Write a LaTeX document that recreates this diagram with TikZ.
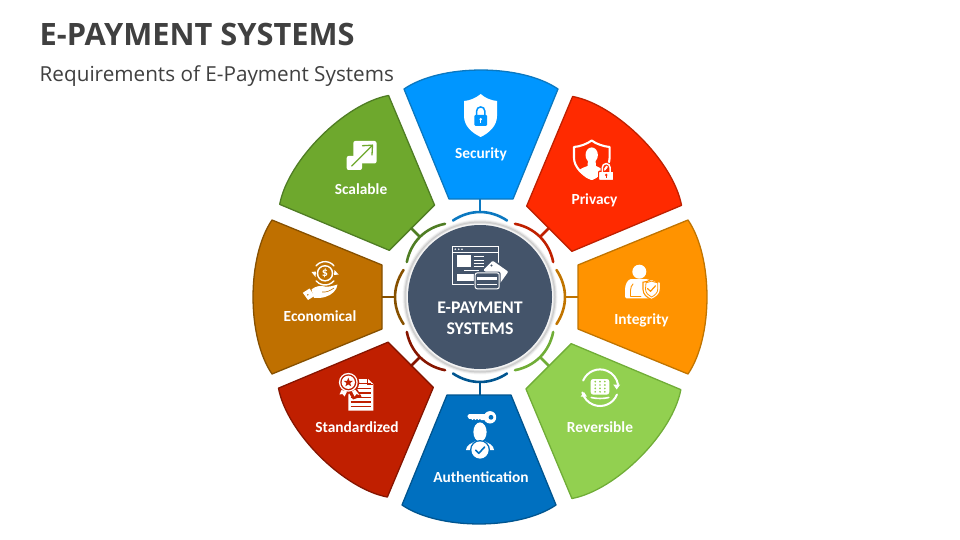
\documentclass[tikz,border=0pt]{standalone}
\usepackage{fontspec}
\setmainfont{Carlito}
\newfontfamily\titlefont{Open Sans}
\definecolor{cSec}{HTML}{0096FF}\definecolor{dSec}{HTML}{0B78C0}
\definecolor{cPri}{HTML}{FF2A00}\definecolor{dPri}{HTML}{BF2000}
\definecolor{cInt}{HTML}{FF9300}\definecolor{dInt}{HTML}{C07400}
\definecolor{cRev}{HTML}{92D050}\definecolor{dRev}{HTML}{70AD37}
\definecolor{cAut}{HTML}{0070C0}\definecolor{dAut}{HTML}{005590}
\definecolor{cSta}{HTML}{C01F00}\definecolor{dSta}{HTML}{861500}
\definecolor{cEco}{HTML}{BF7000}\definecolor{dEco}{HTML}{865000}
\definecolor{cSca}{HTML}{6EA82D}\definecolor{dSca}{HTML}{4F7D24}
\definecolor{hub}{HTML}{44546A}
\definecolor{ink}{HTML}{404040}
\tikzset{
 petalline/.style={line width=1.3pt,line join=round},
 ringline/.style={line width=2.6pt,line cap=round},
 stemline/.style={line width=2.6pt},
 label/.style={text=white,font=\bfseries\fontsize{15.4}{15.4}\selectfont,inner sep=0pt,anchor=center},
 icon/.style={fill=white,draw=none},
 iconline/.style={draw=white,fill=none,line cap=round,line join=round},
}
\newcommand\petal[6]{%
 \begin{scope}[xshift=#5,yshift=#6,shift={(480,297)},rotate=#2]
  \draw[petalline,fill=#3,draw=#4] (98,-32) -- (208,-77) .. controls (233.3,-40) and (233.3,40) .. (208,77) -- (98,32) -- cycle;
 \end{scope}
 \begin{scope}[shift={(480,297)},rotate=#2]
  \coordinate (w#1) at (98,0);
  \coordinate (c#1) at (85,0);
  \draw[ringline,draw=#4] (76.5,-27) .. controls (87.8,-10) and (87.8,10) .. (76.5,27);
 \end{scope}
 \draw[stemline,draw=#4] (c#1) -- (w#1);}
\begin{document}
\begin{tikzpicture}[x=1pt,y=-1pt]
\useasboundingbox (0,0) rectangle (960,540);
\node[anchor=west,inner sep=0pt,text=ink,font=\titlefont\bfseries\fontsize{30.8}{31}\selectfont] (title) at (39.5,35) {E-PAYMENT SYSTEMS};
\node[anchor=west,inner sep=0pt,text=ink,font=\titlefont\fontsize{20.7}{21}\selectfont] (subtitle) at (39.5,76) {Requirements of E-Payment Systems};

\petal{sec}{90}{cSec}{dSec}{1pt}{0pt}
\petal{pri}{45}{cPri}{dPri}{0pt}{-1pt}
\petal{int}{0}{cInt}{dInt}{0pt}{0pt}
\petal{rev}{-45}{cRev}{dRev}{-.7pt}{0pt}
\petal{aut}{-90}{cAut}{dAut}{-1pt}{0pt}
\petal{sta}{-135}{cSta}{dSta}{0pt}{1.5pt}
\petal{eco}{180}{cEco}{dEco}{0pt}{0pt}
\petal{sca}{135}{cSca}{dSca}{1.2pt}{0pt}

% hub
\fill[gray!8] (480,297) circle (77.5);
\fill[gray!22] (480,297) circle (76.5);
\fill[gray!40] (480,297) circle (75.5);
\fill[gray!30] (480,297) circle (74.5);
\fill[gray!8] (480,297) circle (73.5);
\fill[hub] (480,297) circle (72);

% labels
\node[label] (lsec) at (481,154.3) {Security};
\node[label] (lpri) at (594.5,200.3) {Privacy};
\node[label] (lint) at (641.5,320.3) {Integrity};
\node[label] (lrev) at (600,427) {Reversible};
\node[label] (laut) at (481,477) {Authentication};
\node[label] (lsta) at (357,427) {Standardized};
\node[label] (leco) at (320,316) {Economical};
\node[label] (lsca) at (361,189) {Scalable};
\node[label,font=\bfseries\fontsize{17.8}{21}\selectfont,align=center] (lhub) at (480,318.5) {E-PAYMENT\\SYSTEMS};

% security icon
\fill[icon] (480.7,94) .. controls (485,98) and (491,100.5) .. (497,101) -- (497,116) .. controls (497,126) and (489,133) .. (480.7,137) .. controls (472,133) and (464,126) .. (464,116) -- (464,101) .. controls (470,100.5) and (476,98) .. (480.7,94) -- cycle;
\draw[draw=cSec,line width=1.5pt] (476.6,115) -- (476.6,111) arc[start angle=180,end angle=360,radius=4.1] -- (484.8,115);
\fill[cSec,rounded corners=1pt] (474.3,115) rectangle (487,125.8);
\fill[white] (480.7,119.3) circle (1.4);
\fill[white] (480.1,119.5) rectangle (481.3,123);

% privacy icon
\draw[draw=white,line width=2.1pt,line join=round] (591.7,140.5) .. controls (596,144) and (604,146.5) .. (609.6,147) -- (609.6,158) .. controls (609.6,167) and (600,175.5) .. (591.7,179) .. controls (583,175.5) and (574,167) .. (574,158) -- (574,147) .. controls (580,146.5) and (587,144) .. (591.7,140.5) -- cycle;
\fill[white] (591.7,155) ellipse (6.2 and 7.6);
\fill[white] (588,160) -- (595.5,160) -- (596,166) .. controls (600,168) and (603,169) .. (604,171) -- (596,178) -- (591.7,180) -- (586,177.5) -- (578.5,171) .. controls (581,168) and (584,167.5) .. (587.5,166) -- cycle;
\draw[draw=cPri,line width=3.5pt] (602.3,172) -- (602.3,167.5) arc[start angle=180,end angle=360,radius=3.9] -- (610.1,172);
\fill[white,draw=cPri,line width=1.2pt,rounded corners=.8pt] (598.6,171.3) rectangle (613.8,180.5);
\draw[draw=white,line width=1.5pt] (602.3,172) -- (602.3,167.5) arc[start angle=180,end angle=360,radius=3.9] -- (610.1,172);
\fill[cPri] (606.2,175) circle (1.3);
\fill[cPri] (605.6,175) rectangle (606.8,178.3);

% integrity icon
\fill[white] (639.3,271.7) circle (7);
\fill[white,rounded corners=1.5pt] (625,298.3) -- (625,291) .. controls (625,284) and (628,279.5) .. (632,279) -- (647,279) -- (652,281) -- (652,298.3) -- cycle;
\draw[draw=cInt,line width=.9pt,line cap=round] (630.5,296) -- (630.5,290.5) .. controls (630.5,287.5) and (631.5,285.5) .. (633,284);
\draw[draw=cInt,line width=.9pt,line cap=round] (630.5,296) -- (641,296);
\fill[white,draw=cInt,line width=1.1pt] (651.5,279.2) .. controls (654,281) and (657,282) .. (660.3,282.2) -- (660.3,289.5) .. controls (660.3,294.5) and (656,297.5) .. (651.5,299.5) .. controls (647,297.5) and (643,294.5) .. (643,289.5) -- (643,282.2) .. controls (646,282) and (649,281) .. (651.5,279.2) -- cycle;
\draw[draw=cInt,line width=.8pt] (646,282.7)..controls (648,282.4) and (650,281.8)..(651.5,281) .. controls (653,281.8) and (655.5,282.4)..(657.8,282.7) -- (657.8,289) .. controls (657.8,293) and (654.5,295.5) .. (651.5,297) .. controls (648.5,295.5) and (645.5,293) .. (645.5,289) -- cycle;
\draw[draw=cInt,line width=1.2pt,line cap=round,line join=round] (647.5,288.5) -- (650.5,291.3) -- (655.5,285.8);

% reversible icon
\draw[iconline,line width=2pt] (600,387.7) ++(203:18.3) arc[start angle=203,end angle=350,radius=18.3];
\draw[iconline,line width=2pt] (600,387.7) ++(22:18.3) arc[start angle=22,end angle=165,radius=18.3];
\fill[icon] (613.2,384.5) -- (620.2,384.5) -- (616.7,389.5) -- cycle;
\fill[icon] (580.6,396.7) -- (587,396.7) -- (584,392) -- cycle;
\fill[icon,rounded corners=2.5pt] (590.7,379) rectangle (609.3,394.6);
\foreach \dx in {595.2,600,604.8}{\foreach \dy in {381.6,385,388.4,391.8}{\fill[cRev] (\dx,\dy) circle (.95);}}
\draw[iconline,line width=1.6pt] (591.2,397.5) .. controls (596,398.8) and (604,398.8) .. (608.8,397.5);

% standardized icon
\fill[icon] (348.3,379) -- (368,379) -- (373.3,384) -- (373.3,410.7) -- (348.3,410.7) -- cycle;
\draw[draw=cSta,line width=.8pt] (367.5,379.2) -- (367.5,384.5) -- (373,384.5);
\foreach \yy in {383.5,388.3,393,397.7,402,406.7}{\draw[draw=cSta,line width=1.1pt] (350.5,\yy) -- (371,\yy);}
\fill[cSta] (348.3,382.3) circle (11);
\fill[cSta] (340.5,388) -- (337.5,396.5) -- (345.5,399) -- (349,393) -- (353,399.5) -- (361.5,396.5) -- (356,387) -- cycle;
\fill[icon] (341.5,390) -- (339.5,394.5) -- (342.5,394) -- (344.5,396.5) -- (347,391.5) -- cycle;
\fill[icon] (352,391.5) -- (354.5,396.5) -- (356.5,394) -- (359.5,395) -- (355,389.5) -- cycle;
\fill[icon] (348.3,382.3) circle (9.4);
\fill[cSta] (348.3,382.3) circle (8);
\fill[icon] (348.3,382.3) circle (6.6);
\fill[cSta] (348.3,377.6) -- (349.5,380.8) -- (352.9,380.9) -- (350.2,383) -- (351.2,386.3) -- (348.3,384.4) -- (345.4,386.3) -- (346.4,383) -- (343.7,380.9) -- (347.1,380.8) -- cycle;

% authentication icon
\fill[icon] (490,417.3) circle (6.2);
\fill[cAut] (491,417.3) circle (2.4);
\fill[icon] (467.3,416) -- (469,414.2) -- (485,414.2) -- (485,420) -- (481,420) -- (480,418.8) -- (478.5,420) -- (477,418.8) -- (475.5,420) -- (474,418.8) -- (472.5,420) -- (471,418.8) -- (469,418.8) -- cycle;
\fill[icon] (480,432) ellipse (6.6 and 9.6);
\fill[icon] (466,450) .. controls (466,445) and (472,443) .. (476,441) -- (484,441) .. controls (488,443) and (494,445) .. (494,450) -- cycle;
\fill[cAut] (480,450) circle (10);
\fill[icon] (480,450) circle (8.6);
\draw[draw=cAut,line width=1.6pt,line cap=round,line join=round] (475.8,450.3) -- (478.8,453.3) -- (484.6,447);

% economical icon
\draw[iconline,line width=1.4pt] (325,273.3) ++(-40:11.7) arc[start angle=-40,end angle=-140,radius=11.7];
\draw[iconline,line width=1.4pt] (325,273.3) ++(40:11.7) arc[start angle=40,end angle=140,radius=11.7];
\fill[icon] (334.5,270) -- (338.5,274.5) -- (334,275) -- cycle;
\fill[icon] (315.5,277) -- (311.5,272) -- (316,271.5) -- cycle;
\fill[icon] (325,273.3) circle (8.3);
\fill[cEco] (325,273.3) circle (6.7);
\node[inner sep=0pt,text=white,font=\bfseries\fontsize{12}{12}\selectfont] (dollar) at (325,273.3) {\$};
\fill[icon] (311.5,289.5) .. controls (315,286.5) and (320,285) .. (325,286.5) .. controls (328,287.2) and (333,286) .. (337.5,284.5) .. controls (337,290) and (332,295) .. (325,297) .. controls (320,298.5) and (317,297.5) .. (314,298) -- cycle;
\draw[draw=cEco,line width=.6pt] (322,292) .. controls (326,292.5) and (330,291) .. (334,288);
\fill[icon] (302.8,292.8) -- (309.5,288.5) -- (314.5,296) -- (308,300) -- cycle;
\fill[cEco] (307.8,294.8) circle (.8);

% scalable icon
\fill[icon,rounded corners=2pt] (353.3,141) rectangle (376.5,163.5);
\fill[icon,rounded corners=2pt] (346.7,156) rectangle (362,170);
\draw[draw=cSca,line width=1.3pt,line cap=round,line join=round] (351.7,166) -- (372.5,145.2);
\draw[draw=cSca,line width=1.3pt,line cap=round,line join=round] (362.5,145.7) -- (372.5,145.2) -- (372,155);

% hub icon
\draw[draw=white,line width=1.3pt] (452.4,246.7) rectangle (498.7,284.5);
\draw[draw=white,line width=.8pt] (452,252) -- (499,252);
\foreach \xx in {455.3,458.7,462}{\fill[white] (\xx,249.2) circle (.9);}
\fill[white] (456.7,255) rectangle (470.7,266.7);
\foreach \yy in {256.7,260,263.3,266.7}{\draw[draw=white,line width=1pt] (473.5,\yy) -- (483.5,\yy);}
\fill[white] (456.7,273.5) rectangle (475,281.3);
\draw[draw=white,line width=.9pt] (464,270.6) -- (479,270.6);
\fill[hub] (481,272) -- (492.7,258.5) -- (510.5,271.7) -- (500,286) -- cycle;
\fill[white,rounded corners=1pt] (483.3,270) -- (492.7,260.7) -- (508.3,271.7) -- (500,283.3) -- cycle;
\fill[hub] (491.5,265.5) circle (1.1);
\fill[hub,rounded corners=2pt] (473.8,271.5) rectangle (500.5,290.2);
\draw[draw=white,line width=1pt,rounded corners=2pt] (475.2,272.9) rectangle (499.2,288.8);
\fill[white] (477,276.8) rectangle (497.4,280.2);
\draw[draw=white,line width=.7pt] (477,284.5) -- (497.4,284.5);
\end{tikzpicture}
\end{document}
